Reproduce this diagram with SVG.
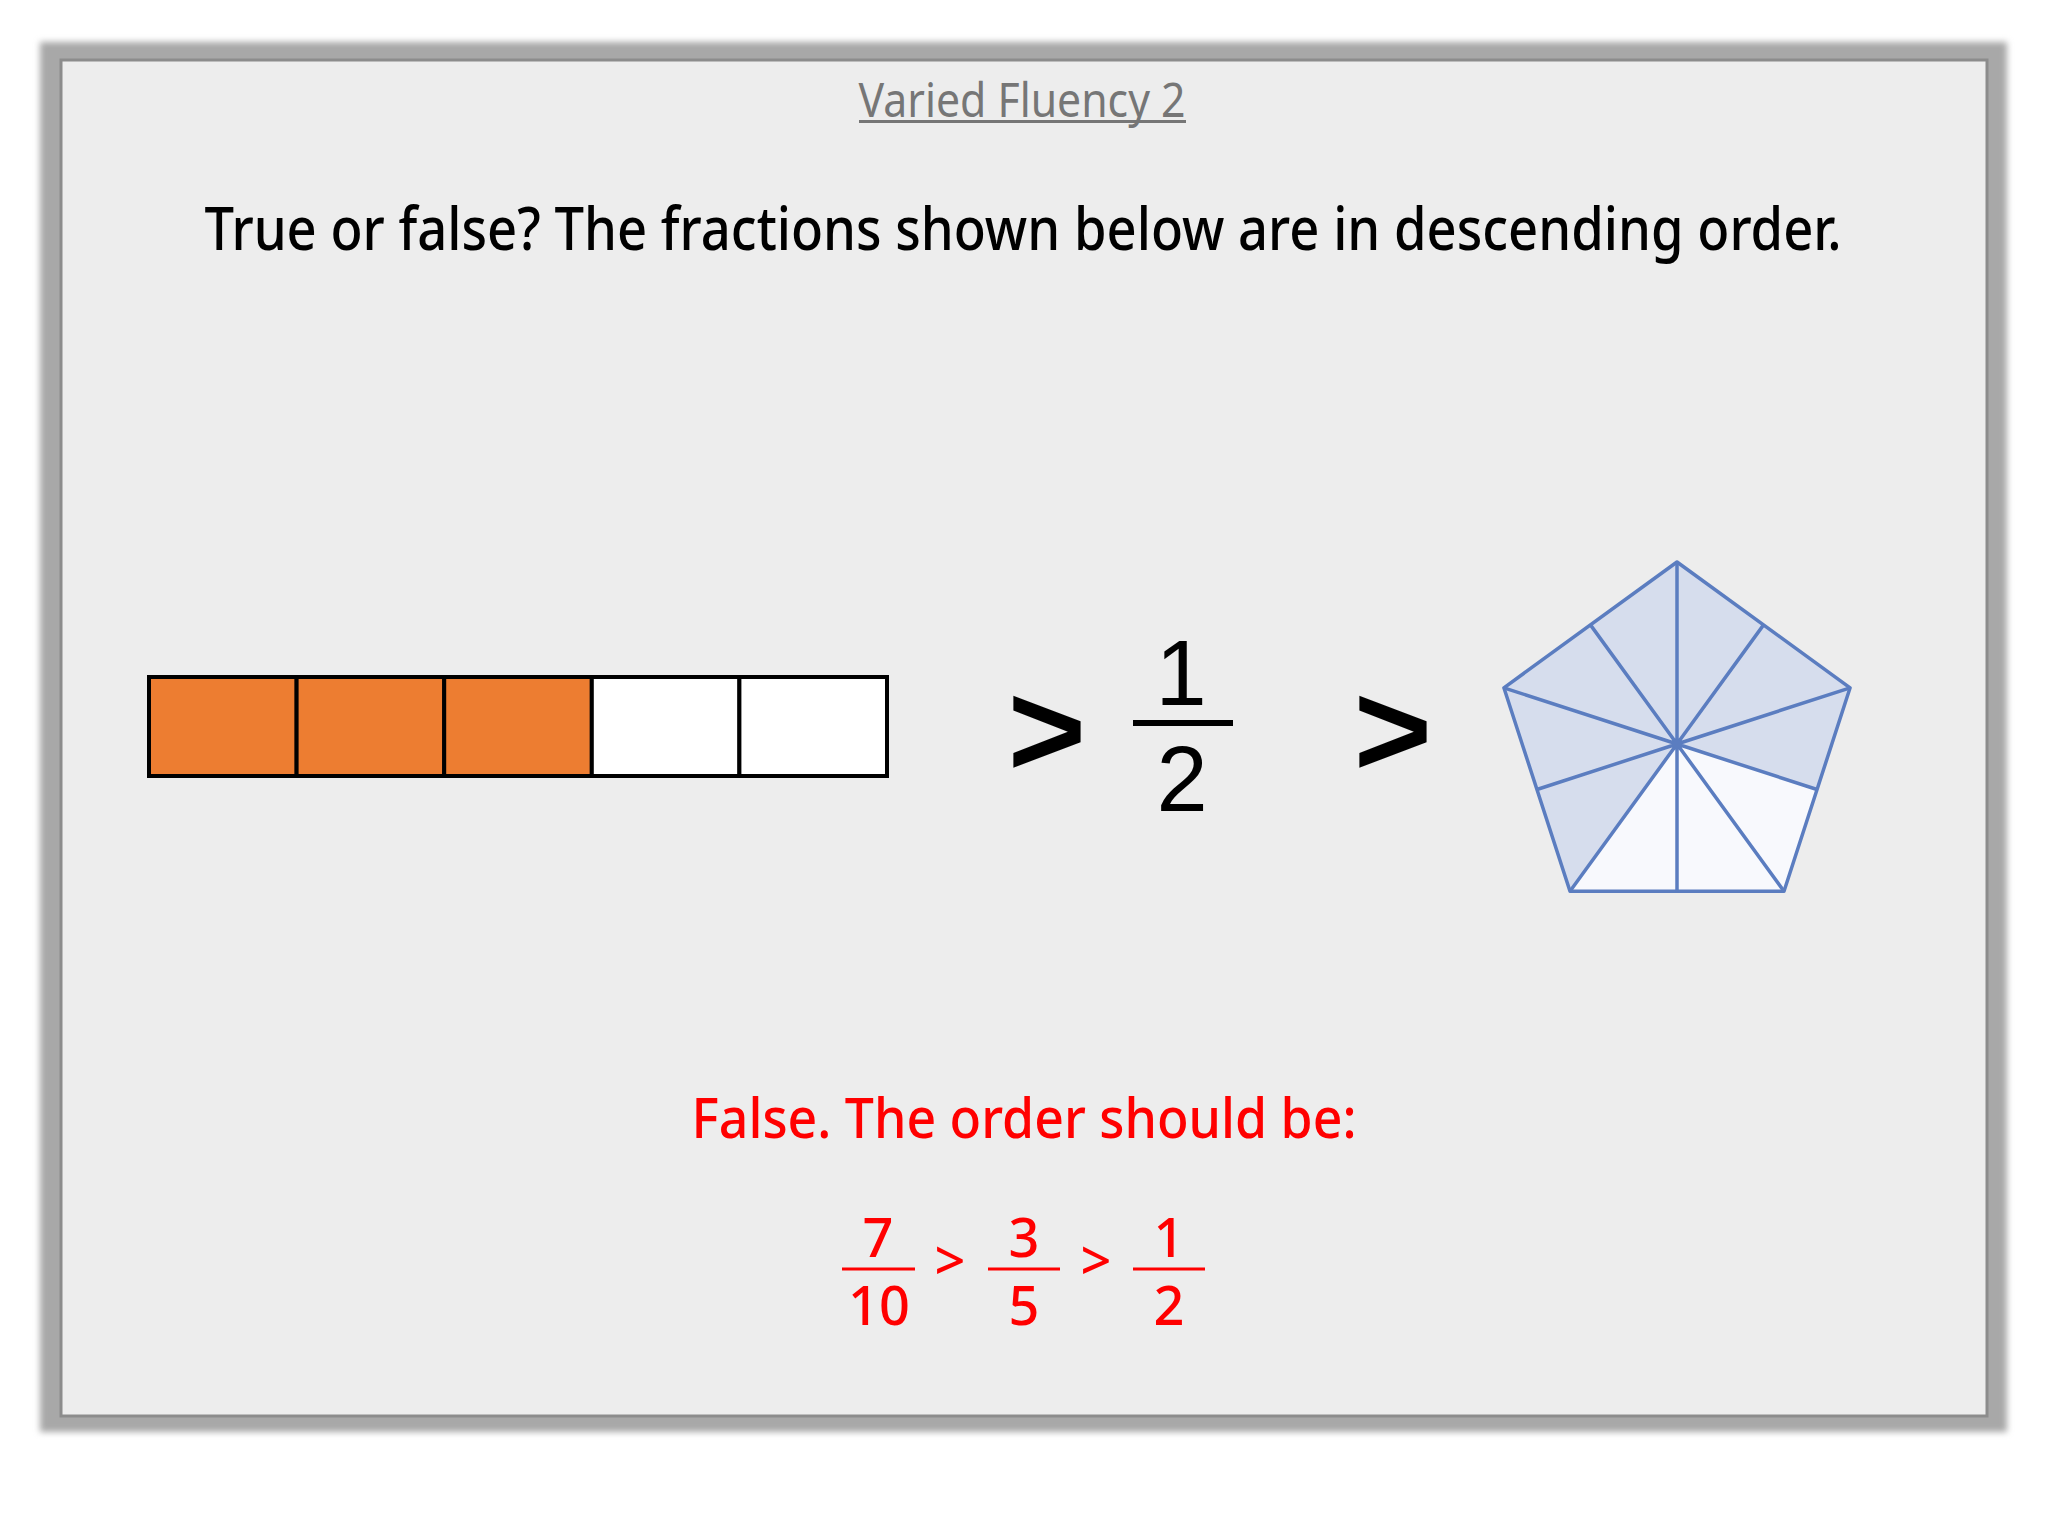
<svg xmlns="http://www.w3.org/2000/svg" width="2048" height="1536" viewBox="0 0 2048 1536">
<defs>
<filter id="blur" x="-5%" y="-5%" width="110%" height="110%"><feGaussianBlur stdDeviation="3"/></filter>
<style>
.sans{font-family:"Noto Sans","Open Sans","Liberation Sans",sans-serif}
.ar{font-family:"Liberation Sans",Arial,sans-serif}
.red{fill:#FF0000}
.rbar{stroke:#FF0000;stroke-width:3}
.cell{stroke:#000;stroke-width:4}
.pen{stroke:#5B7DC0;stroke-width:3.5;stroke-linejoin:round;fill:none}
</style>
</defs>
<rect x="0" y="0" width="2048" height="1536" fill="#FFFFFF"/>
<g id="frame">
<rect x="40" y="42" width="1967" height="1390" fill="#A8A8A8" filter="url(#blur)"/>
<rect x="61" y="60" width="1926" height="1356" fill="#EDEDED" stroke="#8C8C8C" stroke-width="3"/>
</g>
<g id="title">
<text class="sans" x="1022" y="117" font-size="48" fill="#767676" text-anchor="middle" textLength="327" lengthAdjust="spacingAndGlyphs">Varied Fluency 2</text>
<line x1="859" y1="121.5" x2="1186" y2="121.5" stroke="#767676" stroke-width="3"/>
</g>
<g id="question">
<text class="sans" x="1023" y="250" font-size="59" font-weight="500" fill="#000" text-anchor="middle" textLength="1637" lengthAdjust="spacingAndGlyphs">True or false? The fractions shown below are in descending order.</text>
</g>
<g id="bar">
<rect class="cell" x="149" y="677" width="147.6" height="99" fill="#ED7D31"/>
<rect class="cell" x="296.6" y="677" width="147.6" height="99" fill="#ED7D31"/>
<rect class="cell" x="444.2" y="677" width="147.6" height="99" fill="#ED7D31"/>
<rect class="cell" x="591.8" y="677" width="147.6" height="99" fill="#FFFFFF"/>
<rect class="cell" x="739.4" y="677" width="147.6" height="99" fill="#FFFFFF"/>
</g>
<g id="gt1"><text class="ar" x="1047" y="776" font-size="134" font-weight="bold" text-anchor="middle">&gt;</text></g>
<g id="half">
<text class="ar" x="1181" y="705" font-size="92" text-anchor="middle">1</text>
<line x1="1133" y1="723" x2="1233" y2="723" stroke="#000" stroke-width="6"/>
<text class="ar" x="1182" y="811" font-size="92" text-anchor="middle">2</text>
</g>
<g id="gt2"><text class="ar" x="1393" y="776" font-size="134" font-weight="bold" text-anchor="middle">&gt;</text></g>
<g id="pentagon">
<polygon points="1677,562 1850.1,687.8 1784,891.2 1570,891.2 1503.9,687.8" fill="#F8F9FD"/>
<polygon points="1677,744 1817.05,789.5 1850.1,687.8 1677,562 1503.9,687.8 1570,891.2" fill="#D6DDED"/>
<polygon class="pen" points="1677,562 1850.1,687.8 1784,891.2 1570,891.2 1503.9,687.8"/>
<path class="pen" d="M1677,744L1677,562M1677,744L1850.1,687.8M1677,744L1784,891.2M1677,744L1570,891.2M1677,744L1503.9,687.8M1677,744L1763.55,624.9M1677,744L1817.05,789.5M1677,744L1677,891.2M1677,744L1536.95,789.5M1677,744L1590.45,624.9"/>
<circle cx="1677" cy="744" r="4.5" fill="#5B7DC0"/>
</g>
<g id="answer">
<text class="sans red" x="1024" y="1138" font-size="56" font-weight="500" text-anchor="middle" textLength="665" lengthAdjust="spacingAndGlyphs">False. The order should be:</text>
</g>
<g id="order">
<text class="sans red" x="878" y="1257" font-size="54" font-weight="500" text-anchor="middle">7</text>
<line class="rbar" x1="842" y1="1269" x2="915" y2="1269"/>
<text class="sans red" x="879" y="1325" font-size="54" font-weight="500" text-anchor="middle">10</text>
<text class="sans red" x="950" y="1280" font-size="54" font-weight="500" text-anchor="middle">&gt;</text>
<text class="sans red" x="1024" y="1257" font-size="54" font-weight="500" text-anchor="middle">3</text>
<line class="rbar" x1="988" y1="1269" x2="1060" y2="1269"/>
<text class="sans red" x="1024" y="1325" font-size="54" font-weight="500" text-anchor="middle">5</text>
<text class="sans red" x="1096" y="1280" font-size="54" font-weight="500" text-anchor="middle">&gt;</text>
<text class="sans red" x="1169" y="1257" font-size="54" font-weight="500" text-anchor="middle">1</text>
<line class="rbar" x1="1133" y1="1269" x2="1205" y2="1269"/>
<text class="sans red" x="1169" y="1325" font-size="54" font-weight="500" text-anchor="middle">2</text>
</g>
</svg>
